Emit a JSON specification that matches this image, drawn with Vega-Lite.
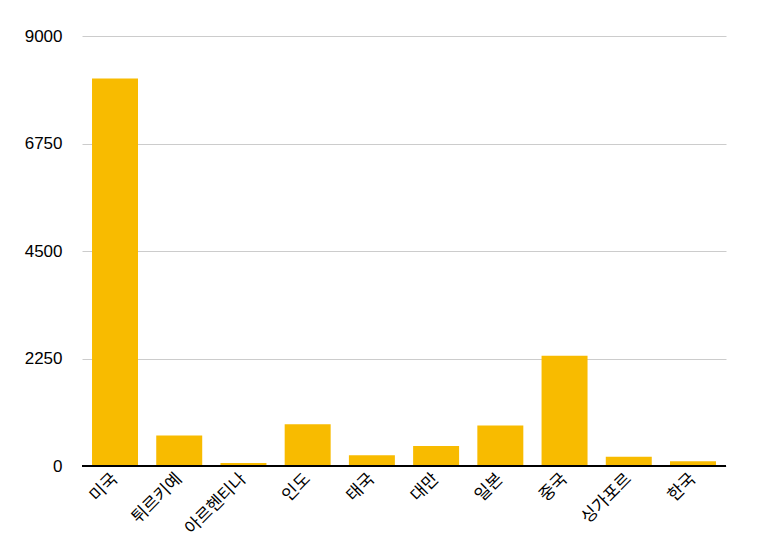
{
  "$schema": "https://vega.github.io/schema/vega-lite/v6.json",
  "autosize": "none",
  "width": 644,
  "height": 430,
  "padding": {"left": 82, "top": 36, "right": 42, "bottom": 92},
  "background": "#ffffff",
  "data": {
    "values": [
      {"country": "미국", "value": 8110},
      {"country": "튀르키예", "value": 640},
      {"country": "아르헨티나", "value": 63},
      {"country": "인도", "value": 876},
      {"country": "태국", "value": 226},
      {"country": "대만", "value": 421},
      {"country": "일본", "value": 846},
      {"country": "중국", "value": 2310},
      {"country": "싱가포르", "value": 194},
      {"country": "한국", "value": 100}
    ]
  },
  "layer": [
    {
      "mark": {"type": "bar", "color": "#F8BB00"},
      "encoding": {
        "x": {
          "field": "country",
          "type": "nominal",
          "sort": null,
          "title": null,
          "scale": {"paddingInner": 0.284, "paddingOuter": 0.156},
          "axis": {
            "labelAngle": -45,
            "labelAlign": "right",
            "labelBaseline": "middle",
            "labelFont": "Noto Sans CJK KR",
            "labelFontSize": 17,
            "labelColor": "#000000",
            "labelPadding": 10,
            "ticks": false,
            "domain": false
          }
        },
        "y": {
          "field": "value",
          "type": "quantitative",
          "title": null,
          "scale": {"domain": [0, 9000], "nice": false},
          "axis": {
            "values": [0, 2250, 4500, 6750, 9000],
            "format": "d",
            "labelFont": "Liberation Sans",
            "labelFontSize": 17,
            "labelColor": "#000000",
            "labelPadding": 20,
            "ticks": false,
            "domain": false,
            "grid": true,
            "gridColor": "#cccccc",
            "gridWidth": 1
          }
        }
      }
    },
    {
      "mark": {"type": "rule", "color": "#000000", "strokeWidth": 2},
      "encoding": {"y": {"datum": 0, "type": "quantitative"}}
    }
  ],
  "config": {"view": {"stroke": null}}
}
